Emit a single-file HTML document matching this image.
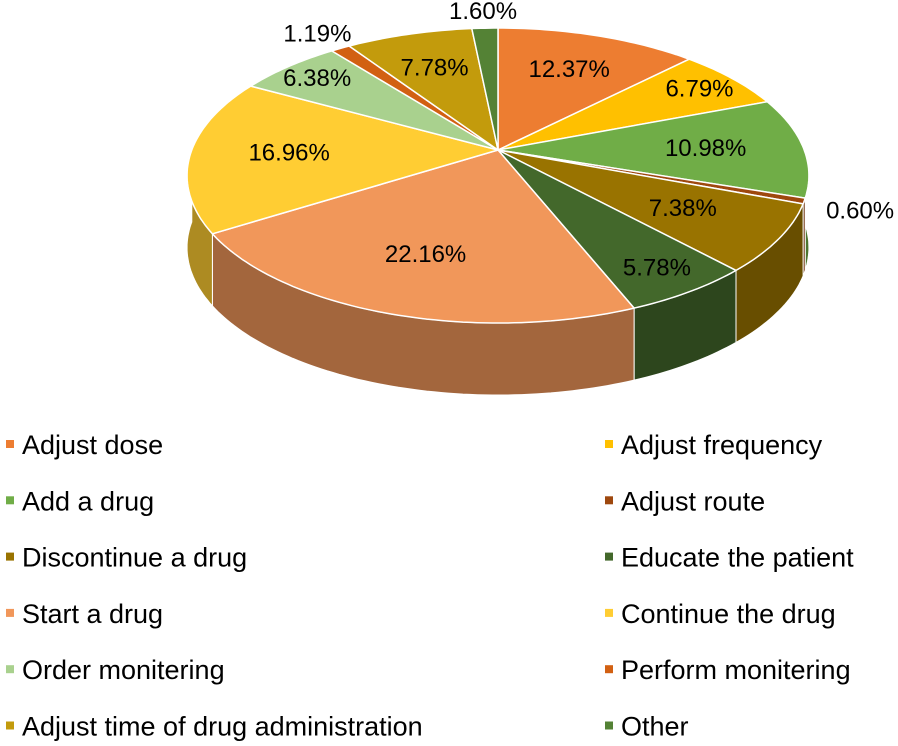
<!DOCTYPE html>
<html><head><meta charset="utf-8">
<style>
html,body{margin:0;padding:0;background:#fff;}
body{width:898px;height:741px;overflow:hidden;font-family:"Liberation Sans",Arial,sans-serif;}
</style></head>
<body>
<svg id="chart" width="898" height="741" viewBox="0 0 898 741" xmlns="http://www.w3.org/2000/svg"></svg>
<script>
const categories = ["Adjust dose","Adjust frequency","Add a drug","Adjust route","Discontinue a drug","Educate the patient","Start a drug","Continue the drug","Order monitering","Perform monitering","Adjust time of drug administration","Other"];
const values = [12.37,6.79,10.98,0.60,7.38,5.78,22.16,16.96,6.38,1.19,7.78,1.60];
const labels = ["12.37%","6.79%","10.98%","0.60%","7.38%","5.78%","22.16%","16.96%","6.38%","1.19%","7.78%","1.60%"];
const colors = ["#ED7D31","#FFC000","#70AD47","#9E480E","#997300","#43682B","#F1975A","#FFCD33","#A9D18E","#D26012","#C39B0C","#548235"];

const NS="http://www.w3.org/2000/svg";
const svg=document.getElementById('chart');
const cx=498, cy=150, D=5.78, SX=1770, SY=827, depth=72;
function pt(a,r,dy){
  const u=r*Math.sin(a), v=-r*Math.cos(a);
  return [cx+SX*u/(D-v), cy+SY*v/(D-v)+(dy||0)];
}
function arc(a1,a2,dy){
  const n=Math.max(2,Math.ceil((a2-a1)/0.02));const out=[];
  for(let k=0;k<=n;k++){out.push(pt(a1+(a2-a1)*k/n,1,dy).map(z=>z.toFixed(1)).join(','));}
  return out;
}
function shade(hex,f){const n=parseInt(hex.slice(1),16);const r=(n>>16)*f,g=((n>>8)&255)*f,b=(n&255)*f;return `rgb(${r|0},${g|0},${b|0})`;}
const total=values.reduce((a,b)=>a+b,0);
const angles=[];let acc=0;
values.forEach(v=>{const a1=acc/total*2*Math.PI;acc+=v;angles.push([a1,acc/total*2*Math.PI]);});
const slug=s=>s.toLowerCase().replace(/ /g,'-');

const gSide=document.createElementNS(NS,'g');


svg.appendChild(gSide);
angles.forEach(([a1,a2],i)=>{
  const s=Math.max(a1,Math.PI/2), e=Math.min(a2,3*Math.PI/2);
  if(e<=s) return;
  const top=arc(s,e,0), bot=arc(s,e,depth).reverse();
  const p=document.createElementNS(NS,'path');
  p.setAttribute('d','M'+top.join('L')+'L'+bot.join('L')+'Z');
  p.setAttribute('fill',shade(colors[i],0.68));
  p.setAttribute('stroke','#fff');p.setAttribute('stroke-width','1');
  
  
  gSide.appendChild(p);
});
angles.forEach(([a1,a2],i)=>{
  const p=document.createElementNS(NS,'path');
  p.setAttribute('d',`M${cx},${cy}L`+arc(a1,a2,0).join('L')+'Z');
  p.setAttribute('fill',colors[i]);p.setAttribute('stroke','#fff');p.setAttribute('stroke-width','1.5');
  p.setAttribute('stroke-linejoin','round');
  
  
  svg.appendChild(p);
});
angles.forEach(([a1,a2],i)=>{
  const m=(a1+a2)/2;
  const r=values[i]<2?1.17:(values[i]<7?0.85:0.68);
  const [x,y]=pt(m,r);
  const t=document.createElementNS(NS,'text');
  t.setAttribute('x',x);t.setAttribute('y',y+8);
  t.setAttribute('text-anchor','middle');t.setAttribute('font-size','24');t.setAttribute('fill','#000');
  t.textContent=labels[i];
  
  
  svg.appendChild(t);
});
categories.forEach((c,i)=>{
  const col=i%2,row=Math.floor(i/2);
  const x=col?609:10, y=444+row*56.3;
  const g=document.createElementNS(NS,'g');
  
  
  const r=document.createElementNS(NS,'rect');
  r.setAttribute('x',x-4);r.setAttribute('y',y-4);r.setAttribute('width',8);r.setAttribute('height',8);r.setAttribute('fill',colors[i]);
  
  
  const t=document.createElementNS(NS,'text');
  t.setAttribute('x',x+12);t.setAttribute('y',y+10);t.setAttribute('font-size','27');t.setAttribute('fill','#000');
  t.textContent=c;
  
  
  g.appendChild(r);g.appendChild(t);svg.appendChild(g);
});
</script>
</body></html>
